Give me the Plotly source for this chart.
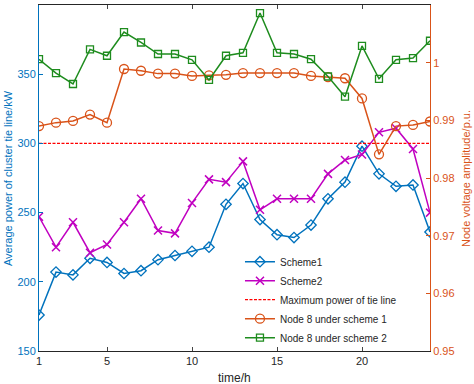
import plotly.graph_objects as go

hours = list(range(1, 25))
scheme1 = [176, 207, 205, 217, 214, 206, 208, 216, 219, 222, 225, 256, 271, 245, 234, 232, 241, 260, 272, 298, 278, 269, 270, 236]
scheme2 = [247, 225, 243, 221, 227, 243, 260, 237, 235, 257, 274, 272, 287, 252, 260, 260, 260, 278, 288, 292, 308, 311, 296, 250]
max_power = [300] * 24
node8_s1 = [0.9890, 0.9896, 0.9899, 0.9910, 0.9896, 0.9989, 0.9986, 0.9981, 0.9981, 0.9977, 0.9978, 0.9979, 0.9982, 0.9982, 0.9982, 0.9982, 0.9977, 0.9975, 0.9973, 0.9938, 0.9841, 0.9890, 0.9892, 0.9898]
node8_s2 = [1.0006, 0.9982, 0.9963, 1.0023, 1.0012, 1.0053, 1.0035, 1.0015, 1.0015, 1.0005, 0.9970, 1.0012, 1.0017, 1.0086, 1.0017, 1.0015, 1.0006, 0.9976, 0.9941, 1.0029, 0.9972, 1.0005, 1.0008, 1.0038]

x_ticks = [1, 5, 10, 15, 20]
y1_ticks = [150, 200, 250, 300, 350, 400]
y2_ticks = [0.95, 0.96, 0.97, 0.98, 0.99, 1.00, 1.01]
y2_labels = ["0.95", "0.96", "0.97", "0.98", "0.99", "1", "1.01"]

BLUE = "#0072BD"
MAG = "#C000C0"
RED = "#FF0000"
ORANGE = "#D95319"
GREEN = "#1E8C1E"
FONT = "Arial, Liberation Sans, sans-serif"

fig = go.Figure()
fig.add_trace(go.Scatter(x=hours, y=scheme1, name="Scheme1", mode="lines+markers",
                         line=dict(color=BLUE, width=1.5),
                         marker=dict(symbol="diamond-open", size=8, color=BLUE, line=dict(width=1.3))))
fig.add_trace(go.Scatter(x=hours, y=scheme2, name="Scheme2", mode="lines+markers",
                         line=dict(color=MAG, width=1.5),
                         marker=dict(symbol="x-thin-open", size=8, color=MAG, line=dict(width=1.5, color=MAG))))
fig.add_trace(go.Scatter(x=hours, y=max_power, name="Maximum power of tie line", mode="lines",
                         line=dict(color=RED, width=1.2, dash="3px,1.5px")))
fig.add_trace(go.Scatter(x=hours, y=node8_s1, name="Node 8 under scheme 1", mode="lines+markers", yaxis="y2",
                         line=dict(color=ORANGE, width=1.5),
                         marker=dict(symbol="circle-open", size=9, color=ORANGE, line=dict(width=1.3))))
fig.add_trace(go.Scatter(x=hours, y=node8_s2, name="Node 8 under scheme 2", mode="lines+markers", yaxis="y2",
                         line=dict(color=GREEN, width=1.5),
                         marker=dict(symbol="square-open", size=7, color=GREEN, line=dict(width=1.3))))

fig.update_layout(
    width=474, height=384,
    margin=dict(l=39, r=44, t=5, b=33, autoexpand=False),
    plot_bgcolor="white", paper_bgcolor="white",
    font=dict(family=FONT, size=11, color="#262626"),
    showlegend=True,
    legend=dict(x=0.514, y=0.30, xanchor="left", yanchor="top",
                bgcolor="rgba(255,255,255,0)", font=dict(size=10, color="#262626"),
                tracegroupgap=0, itemwidth=30),
    xaxis=dict(range=[1, 24], tickvals=x_ticks, ticks="inside", ticklen=4,
               showline=True, linecolor="#262626", linewidth=1, mirror="ticks",
               showgrid=False, zeroline=False, automargin=False,
               tickfont=dict(size=11, color="#262626")),
    yaxis=dict(range=[150, 400], tickvals=y1_ticks, ticks="inside", ticklen=4,
               showline=True, linecolor=BLUE, linewidth=1, tickcolor=BLUE,
               showgrid=False, zeroline=False, automargin=False,
               tickfont=dict(size=11, color=BLUE)),
    yaxis2=dict(range=[0.95, 1.01], tickvals=y2_ticks, ticktext=y2_labels, overlaying="y", side="right",
                ticks="inside", ticklen=4,
                showline=True, linecolor=ORANGE, linewidth=1, tickcolor=ORANGE,
                showgrid=False, zeroline=False, automargin=False,
                tickfont=dict(size=11, color=ORANGE)),
    annotations=[
        dict(text="time/h", xref="paper", yref="paper", x=0.5, y=-0.078, xanchor="center", yanchor="middle",
             showarrow=False, font=dict(size=12, color="#262626")),
        dict(text="Average power of cluster tie line/kW", xref="paper", yref="paper", x=-0.079, y=0.5,
             xanchor="center", yanchor="middle", textangle=-90, showarrow=False,
             font=dict(size=11, color=BLUE)),
        dict(text="Node voltage amplitude/p.u.", xref="paper", yref="paper", x=1.092, y=0.5,
             xanchor="center", yanchor="middle", textangle=-90, showarrow=False,
             font=dict(size=11, color=ORANGE)),
    ],
)

fig.write_html("out.html", config={"displayModeBar": False},
               post_script="document.body.style.margin='0';document.body.style.padding='0';")
